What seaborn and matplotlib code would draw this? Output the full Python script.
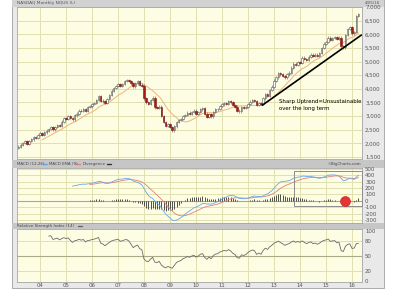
import numpy as np
import pandas as pd
import matplotlib
matplotlib.use("Agg")
import matplotlib.pyplot as plt
import seaborn as sns
from matplotlib.patches import Rectangle

sns.set_theme(style="white")
plt.rcParams['font.family'] = ['DejaVu Sans']

# ---------------- data (monthly closes, Mar 2003 .. Apr 2016) ----------------
first_open = 1830
c2003 = [1880, 1950, 2010, 2070, 1990, 2080, 2150, 2220, 2200, 2300]
c2004 = [2380, 2320, 2400, 2470, 2530, 2590, 2510, 2600, 2680, 2640, 2800, 2920]
c2005 = [2900, 2990, 2930, 2880, 3030, 3090, 3200, 3180, 3250, 3190, 3330, 3360]
c2006 = [3450, 3490, 3600, 3720, 3570, 3540, 3490, 3620, 3780, 3940, 4040, 4100]
c2007 = [4180, 4120, 4170, 4290, 4330, 4290, 4200, 4090, 4200, 4280, 4160, 4120]
c2008 = [3650, 3500, 3460, 3590, 3680, 3320, 3290, 3350, 3010, 2790, 2650, 2720]
c2009 = [2600, 2480, 2620, 2780, 2850, 2890, 3000, 3050, 3130, 3080, 3150, 3200]
c2010 = [3090, 3150, 3250, 3290, 3090, 2970, 3080, 2990, 3160, 3250, 3270, 3380]
c2011 = [3430, 3490, 3460, 3550, 3500, 3400, 3350, 3200, 3170, 3330, 3300, 3340]
c2012 = [3450, 3530, 3590, 3560, 3420, 3490, 3440, 3650, 3800, 3750, 3950, 4080]
c2013 = [4300, 4420, 4580, 4530, 4480, 4420, 4530, 4600, 4780, 4930, 4880, 4990]
c2014 = [4960, 5150, 5100, 5050, 5180, 5260, 5200, 5260, 5220, 5320, 5500, 5660]
c2015 = [5720, 5880, 5800, 5860, 5900, 5830, 5880, 5560, 5520, 5980, 6200, 6280]
c2016 = [6040, 6080, 6680, 6740]

year_labels = ["04", "05", "06", "07", "08", "09", "10", "11", "12", "13", "14", "15", "16"]
price_ticks = [1500, 2000, 2500, 3000, 3500, 4000, 4500, 5000, 5500, 6000, 6500, 7000]
macd_ticks = [-300, -200, -100, 0, 100, 200, 300, 400, 500]
rsi_ticks = [0, 20, 50, 80, 100]

trend_x = [2012.55, 2016.36]
trend_y = [3400, 5975]
box_x0 = 2013.77
box_y = [-85, 465]
alert_point = (2015.75, 0)

title_text = "NASDAQ Monthly NQUS (L)"
date_text = "4/05/16"
note_text = "Sharp Uptrend=Unsustainable\nover the long term"

# ---------------- derived series ----------------
closes = np.array(c2003 + c2004 + c2005 + c2006 + c2007 + c2008 + c2009 + c2010 +
                  c2011 + c2012 + c2013 + c2014 + c2015 + c2016, dtype=float)
periods = pd.period_range("2003-03", periods=len(closes), freq="M")
t = np.array([p.year + (p.month - 1) / 12 for p in periods])
opens = np.concatenate([[first_open], closes[:-1]])

s = pd.Series(closes)
ma = s.rolling(12).mean()
ema12 = s.ewm(span=12, adjust=False).mean()
ema26 = s.ewm(span=26, adjust=False).mean()
macd = (ema12 - ema26)
macd[:25] = np.nan
sig = macd.ewm(span=9, adjust=False, ignore_na=True).mean()
sig[:33] = np.nan
hist = macd - sig
delta = s.diff()
gain = delta.clip(lower=0).ewm(alpha=1/14, adjust=False, min_periods=14).mean()
loss = (-delta.clip(upper=0)).ewm(alpha=1/14, adjust=False, min_periods=14).mean()
rsi = 100 - 100 / (1 + gain / loss)

df = pd.DataFrame({"t": t, "ma": ma, "macd": macd, "sig": sig, "hist": hist, "rsi": rsi})

# ---------------- layout ----------------
W, H = 400, 295
fig = plt.figure(figsize=(W / 100, H / 100), dpi=100)
fig.patch.set_facecolor("white")

def fx(px):
    return px / W

def fy(py):
    return 1 - py / H

def frect(x0, y0, x1, y1, fc, ec="none", lw=0, z=0):
    fig.patches.append(Rectangle((fx(x0), fy(y1)), fx(x1) - fx(x0), fy(y0) - fy(y1),
                                 transform=fig.transFigure, facecolor=fc, edgecolor=ec,
                                 lw=lw, zorder=z))

frect(12, 0, 384, 288, "#e9e9e9", ec="#a0a0a0", lw=0.6, z=0)
frect(12, 0, 384, 6.5, "#d2d2d2", z=0.5)
frect(12, 160, 384, 167.5, "#c6c6c6", z=0.5)
frect(12, 222.5, 384, 228.5, "#c6c6c6", z=0.5)

L, R = 17, 362
ax1 = fig.add_axes([fx(L), fy(159), fx(R) - fx(L), fy(7) - fy(159)])
ax2 = fig.add_axes([fx(L), fy(222.5), fx(R) - fx(L), fy(167.5) - fy(222.5)])
ax3 = fig.add_axes([fx(L), fy(281.5), fx(R) - fx(L), fy(228.5) - fy(281.5)])

bg = "#fdfde3"
grid_c = "#e0e0b0"
years = np.arange(2004, 2017)
for ax in (ax1, ax2, ax3):
    ax.set_zorder(2)
    ax.set_facecolor(bg)
    ax.set_xlim(2003.115, 2016.385)
    for sp in ax.spines.values():
        sp.set_color("#a5a5a5")
        sp.set_linewidth(0.6)
    for yv in years:
        ax.axvline(yv, color=grid_c, lw=0.7, zorder=0.5)
    ax.yaxis.tick_right()
    ax.tick_params(axis="y", length=0, labelsize=3.9, labelcolor="#555555", pad=2.2)
    ax.tick_params(axis="x", length=0)

# ---------------- price panel ----------------
ax1.set_ylim(1426, 7005)
for yv in price_ticks:
    ax1.axhline(yv, color=grid_c, lw=0.7, zorder=0.5)

up = closes >= opens
body_lo = np.minimum(opens, closes)
body_h = np.abs(closes - opens)
wick = 45
ax1.vlines(t, body_lo - wick, body_lo + body_h + wick, color="#555555", lw=0.4, zorder=2)
ax1.bar(t[up], body_h[up], bottom=body_lo[up], width=0.062, color="white",
        edgecolor="#555555", lw=0.4, zorder=3)
ax1.bar(t[~up], body_h[~up], bottom=body_lo[~up], width=0.062, color="#a81818",
        edgecolor="#7a1010", lw=0.4, zorder=3)
sns.lineplot(data=df, x="t", y="ma", ax=ax1, color="#f0b478", lw=0.7, zorder=1.5, legend=False)
sns.lineplot(x=trend_x, y=trend_y, ax=ax1, color="black", lw=1.2, zorder=4)
ax1.set_xlabel(""); ax1.set_ylabel("")
ax1.set_xlim(2003.115, 2016.385)
ax1.set_yticks(price_ticks)
ax1.set_yticklabels([f"{v:,}" for v in price_ticks])
ax1.set_xticks([])
ax1.text(2013.2, 3630, note_text, fontsize=3.9, color="black", va="top", ha="left",
         linespacing=1.5, zorder=5)

# ---------------- MACD panel ----------------
ax2.set_ylim(-339, 523)
for yv in macd_ticks:
    ax2.axhline(yv, color=grid_c if yv != 0 else "#aaaa88", lw=0.7 if yv != 0 else 0.8, zorder=0.5)
ax2.vlines(df["t"], 0, df["hist"].fillna(0), color="#222222", lw=0.55, zorder=2)
sns.lineplot(data=df, x="t", y="sig", ax=ax2, color="#e08080", lw=0.6, zorder=3, legend=False)
sns.lineplot(data=df, x="t", y="macd", ax=ax2, color="#6aa6f0", lw=0.6, zorder=3, legend=False)
ax2.set_xlabel(""); ax2.set_ylabel("")
ax2.set_xlim(2003.115, 2016.385)
ax2.set_yticks(macd_ticks)
ax2.set_yticklabels([str(v) for v in macd_ticks])
ax2.set_xticks([])
ax2.add_patch(Rectangle((box_x0, box_y[0]), 2016.385 - box_x0, box_y[1] - box_y[0],
                        facecolor="none", edgecolor="#8c8c8c", lw=0.7, zorder=4, clip_on=False))
ax2.plot([alert_point[0]], [alert_point[1]], "o", ms=7.2, color="#e43434",
         mec="#c82020", mew=0.4, zorder=5)

# ---------------- RSI panel ----------------
ax3.set_ylim(-1, 105)
for yv in (20, 80):
    ax3.axhline(yv, color=grid_c, lw=0.7, zorder=0.5)
ax3.axhline(50, color="#aaaa88", lw=0.8, zorder=0.5)
sns.lineplot(data=df, x="t", y="rsi", ax=ax3, color="#6a6a6a", lw=0.6, zorder=3, legend=False)
ax3.set_xlabel(""); ax3.set_ylabel("")
ax3.set_xlim(2003.115, 2016.385)
ax3.set_yticks(rsi_ticks)
ax3.set_yticklabels([str(v) for v in rsi_ticks])
ax3.set_xticks(years)
ax3.set_xticklabels(year_labels)
ax3.tick_params(axis="x", labelsize=3.9, labelcolor="#555555", pad=1.0, length=0)

# ---------------- header texts ----------------
hs = 2.9
fig.text(fx(17), fy(3.3), title_text, fontsize=3.2, color="#555555", va="center", ha="left", zorder=3)
fig.text(fx(365), fy(3.3), date_text, fontsize=hs, color="#555555", va="center", ha="left", zorder=3)
fig.text(fx(17), fy(164), "MACD (12,26)", fontsize=hs, color="#444444", va="center", ha="left", zorder=3)
fig.text(fx(49), fy(164), "MACD EMA (9)", fontsize=hs, color="#444444", va="center", ha="left", zorder=3)
fig.text(fx(83), fy(164), "Divergence", fontsize=hs, color="#444444", va="center", ha="left", zorder=3)
fig.text(fx(361), fy(164), "\u00a9BigCharts.com", fontsize=hs, color="#444444", va="center", ha="right", zorder=3)
fig.text(fx(17), fy(225.5), "Relative Strength Index (14)", fontsize=hs, color="#444444", va="center", ha="left", zorder=3)
swatches = [(43, 164, "#6aa6f0"), (76, 164, "#e08080"), (107, 164, "#333333"), (78, 225.5, "#666666")]
for x0, yy, col in swatches:
    fig.lines.append(plt.Line2D([fx(x0), fx(x0 + 3.5)], [fy(yy), fy(yy)], transform=fig.transFigure,
                                color=col, lw=1.0, zorder=3))

fig.savefig("out.png", dpi=100, facecolor="white")
